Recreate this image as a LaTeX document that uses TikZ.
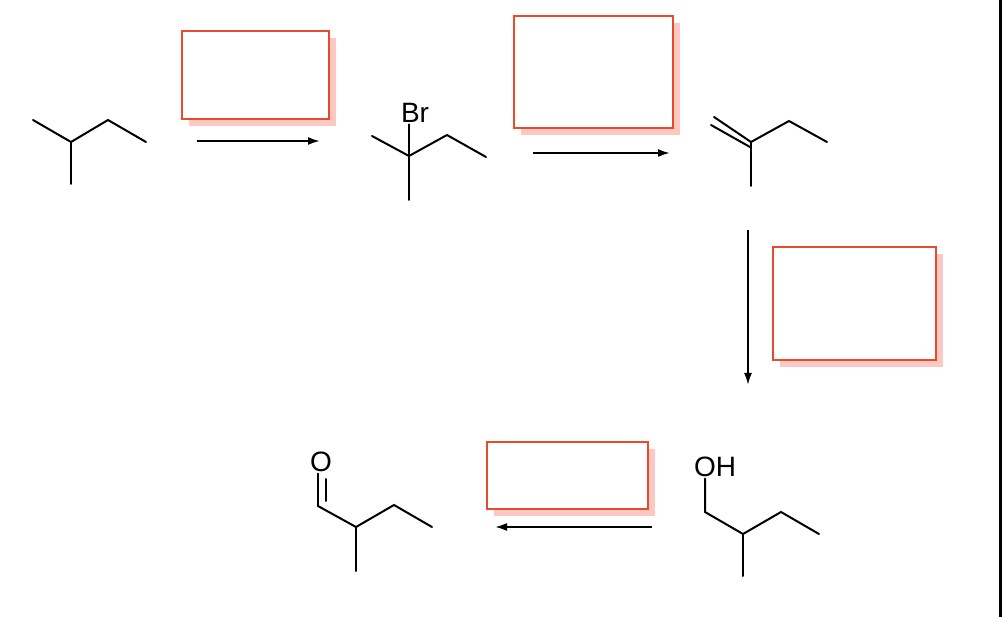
\documentclass[tikz,border=0pt]{standalone}
\usepackage{fontspec}
\setmainfont{Liberation Sans}
\usetikzlibrary{arrows.meta}
\definecolor{boxred}{RGB}{232,74,46}
\definecolor{shadowred}{RGB}{251,201,194}
\begin{document}
\begin{tikzpicture}[x=1pt,y=-1pt,
  bond/.style={line width=2pt,line cap=round},
  arr/.style={line width=2pt,-{Latex[length=12pt,width=8pt]}},
  atom/.style={inner sep=1.5pt,font=\fontsize{28}{28}\selectfont}]
\useasboundingbox (0,0) rectangle (1002,617);
\fill[black] (999,0) rectangle (1002,617);
% boxes
\foreach \n/\a/\b/\c/\d in {b1/182/31/329/119, b2/514/16/673/128, b3/773/247/936/360, b4/487/442/648/509}{
  \fill[shadowred] (\a+7,\b+7) rectangle (\c+7,\d+7);
  \fill[white] (\a,\b) rectangle (\c,\d);
  \draw[boxred,line width=2pt] (\a,\b) rectangle (\c,\d);
}
% arrows
\coordinate (a1s) at (197,141); \coordinate (a1e) at (320,141);
\coordinate (a2s) at (533,153); \coordinate (a2e) at (670,153);
\coordinate (a3s) at (748,230); \coordinate (a3e) at (748,385);
\coordinate (a4s) at (652,527); \coordinate (a4e) at (495,527);
\draw[arr] (a1s) -- (a1e);
\draw[arr] (a2s) -- (a2e);
\draw[arr] (a3s) -- (a3e);
\draw[arr] (a4s) -- (a4e);
% molecule 1
\coordinate (m1a) at (33,120); \coordinate (m1b) at (71,142);
\coordinate (m1c) at (108,120); \coordinate (m1d) at (146,142);
\coordinate (m1e) at (71,184);
\draw[bond] (m1a)--(m1b)--(m1c)--(m1d); \draw[bond] (m1b)--(m1e);
% molecule 2
\node[atom] (br) at (415,113) {Br};
\coordinate (m2c) at (409,156); \coordinate (m2a) at (372,136);
\coordinate (m2d) at (447,135); \coordinate (m2e) at (486,157);
\coordinate (m2f) at (409,200);
\draw[bond] (m2a)--(m2c)--(m2d)--(m2e); \draw[bond] (m2c)--(m2f);
\draw[bond] (m2c)--(br.south -| m2c);
% molecule 3
\coordinate (m3a) at (714,117); \coordinate (m3a2) at (711,125);
\coordinate (m3b) at (751,142); \coordinate (m3b2) at (750,147);
\coordinate (m3c) at (789,121); \coordinate (m3d) at (827,142);
\coordinate (m3e) at (751,186);
\draw[bond] (m3a)--(m3b)--(m3c)--(m3d); \draw[bond] (m3a2)--(m3b2);
\draw[bond] (m3b)--(m3e);
% molecule 5
\node[atom] (oh) at (715,467) {OH};
\coordinate (m5a) at (705,512); \coordinate (m5b) at (743,534);
\coordinate (m5c) at (781,512); \coordinate (m5d) at (819,534);
\coordinate (m5e) at (743,576);
\draw[bond] (oh.south -| m5a)--(m5a)--(m5b)--(m5c)--(m5d); \draw[bond] (m5b)--(m5e);
% molecule 6
\node[atom] (o) at (321,462) {O};
\coordinate (m6a) at (318,506); \coordinate (m6b) at (356,527);
\coordinate (m6c) at (394,505); \coordinate (m6d) at (432,527);
\coordinate (m6e) at (356,571);
\draw[bond] (m6a)--(m6b)--(m6c)--(m6d); \draw[bond] (m6b)--(m6e);
\draw[bond] (o.south -| m6a) -- (m6a);
\draw[bond] (326,479) -- (326,501);
\end{tikzpicture}
\end{document}
